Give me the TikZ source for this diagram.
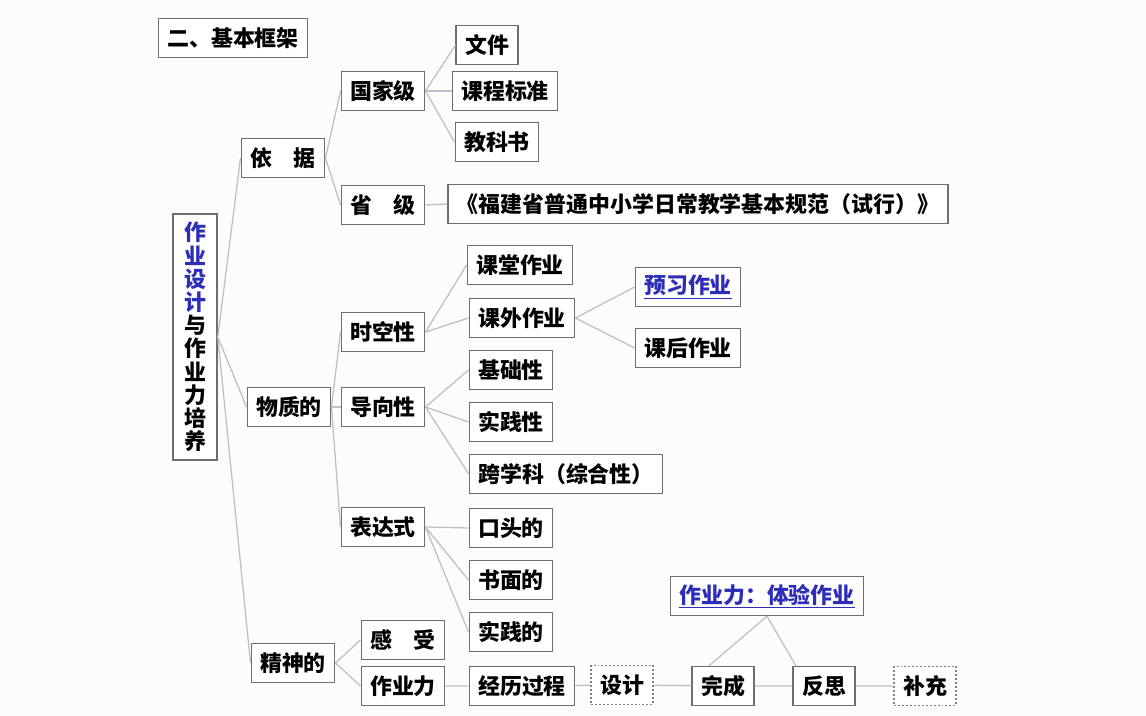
\documentclass[tikz,border=0pt]{standalone}
\usepackage{fontspec}
\newfontfamily\cjk{Noto Sans CJK SC}
\definecolor{linkblue}{RGB}{45,45,185}
\definecolor{boxgray}{RGB}{110,110,110}
\definecolor{linegray}{RGB}{188,192,198}
\definecolor{paper}{RGB}{252,252,250}
\tikzset{
  box/.style={draw=boxgray, line width=1.1pt, fill=white, minimum height=0.97cm,
    inner xsep=0.22cm, inner ysep=0pt, font=\cjk\bfseries\fontsize{15.6}{16.5}\selectfont},
  dbox/.style={box, draw=gray, dash pattern=on 1.4pt off 1.4pt},
  link/.style={draw=linegray, line width=0.9pt}
}
\newcommand{\bluetext}[1]{\textcolor{linkblue}{\underline{#1}}}
\begin{document}
\begin{tikzpicture}[x=0.025cm, y=-0.025cm]
\useasboundingbox (0,0) rectangle (1146,716);
\fill[paper] (0,0) rectangle (1146,716);

\node[box] at (233,38)  (title) {二、基本框架};

\node[box, minimum width=1.1cm, inner ysep=0.2cm, align=center] at (195,337) (root)
  {\textcolor{linkblue}{作}\\\textcolor{linkblue}{业}\\\textcolor{linkblue}{设}\\\textcolor{linkblue}{计}\\与\\作\\业\\力\\培\\养};

\node[box] at (283,158) (yj)   {依\hspace{1em}据};
\node[box] at (289,407) (wz)   {物质的};
\node[box] at (293,663) (js)   {精神的};

\node[box] at (383,91)  (gjj)  {国家级};
\node[box] at (383,205) (sj)   {省\hspace{1em}级};
\node[box] at (383,332) (skx)  {时空性};
\node[box] at (383,407) (dxx)  {导向性};
\node[box] at (383,527) (bds)  {表达式};
\node[box] at (403,640) (gs)   {感\hspace{1em}受};
\node[box] at (403,686) (zyl)  {作业力};

\node[box] at (487,45)  (wj)   {文件};
\node[box] at (505,91)  (kcbz) {课程标准};
\node[box] at (497,142) (jks)  {教科书};
\node[box] at (698,204) (fj)   {《福建省普通中小学日常教学基本规范（试行）》};

\node[box] at (520,265) (ktzy) {课堂作业};
\node[box] at (522,318) (kwzy) {课外作业};
\node[box] at (688,287) (yxzy) {\bluetext{预习作业}};
\node[box] at (688,348) (khzy) {课后作业};

\node[box] at (511,370) (jcx)  {基础性};
\node[box] at (511,422) (sjx)  {实践性};
\node[box] at (566,474) (kxk)  {跨学科（综合性）};

\node[box] at (511,528) (ktd)  {口头的};
\node[box] at (511,580) (smd)  {书面的};
\node[box] at (511,632) (sjd)  {实践的};

\node[box]  at (767,596) (tyzy) {\bluetext{作业力：体验作业}};
\node[box]  at (522,686) (jlgc) {经历过程};
\node[dbox] at (622,685) (sheji) {设计};
\node[box]  at (723,686) (wc)   {完成};
\node[box]  at (824,686) (fs)   {反思};
\node[dbox] at (925,686) (bc)   {补充};

\draw[link] (root.east) -- (yj.west);
\draw[link] (root.east) -- (wz.west);
\draw[link] (root.east) -- (js.west);

\draw[link] (yj.east) -- (gjj.west);
\draw[link] (yj.east) -- (sj.west);
\draw[link] (gjj.east) -- (wj.west);
\draw[link] (gjj.east) -- (kcbz.west);
\draw[link] (gjj.east) -- (jks.west);
\draw[link] (sj.east) -- (fj.west);

\draw[link] (wz.east) -- (skx.west);
\draw[link] (wz.east) -- (dxx.west);
\draw[link] (wz.east) -- (bds.west);
\draw[link] (skx.east) -- (ktzy.west);
\draw[link] (skx.east) -- (kwzy.west);
\draw[link] (kwzy.east) -- (yxzy.west);
\draw[link] (kwzy.east) -- (khzy.west);
\draw[link] (dxx.east) -- (jcx.west);
\draw[link] (dxx.east) -- (sjx.west);
\draw[link] (dxx.east) -- (kxk.west);
\draw[link] (bds.east) -- (ktd.west);
\draw[link] (bds.east) -- (smd.west);
\draw[link] (bds.east) -- (sjd.west);

\draw[link] (js.east) -- (gs.west);
\draw[link] (js.east) -- (zyl.west);
\draw[link] (zyl) -- (jlgc) -- (sheji) -- (wc) -- (fs) -- (bc);
\draw[link] (tyzy.south) -- ([xshift=-10]wc.north);
\draw[link] (tyzy.south) -- ([xshift=-20]fs.north);

\end{tikzpicture}
\end{document}
